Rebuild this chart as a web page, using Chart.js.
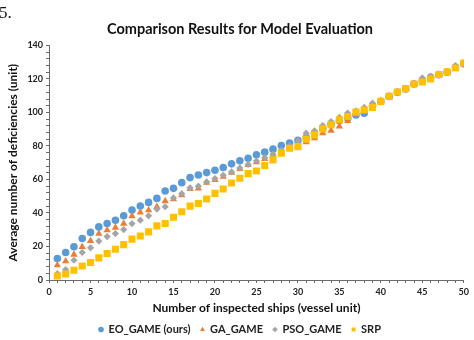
<!DOCTYPE html>
<html>
<head>
<meta charset="utf-8">
<script src="https://cdn.jsdelivr.net/npm/chart.js@4.4.1/dist/chart.umd.min.js"></script>
<style>
  html, body { margin: 0; padding: 0; background: #fff; }
  #wrap { position: relative; width: 474px; height: 340px; }
  #num { position: absolute; left: -1px; top: 3px; font: 17px "Liberation Serif", serif; color: #111; }
</style>
</head>
<body>
<div id="wrap">
  <canvas id="chart" width="474" height="340"></canvas>
  <div id="num">5.</div>
</div>
<script>
  'use strict'

  var ships = [1, 2, 3, 4, 5, 6, 7, 8, 9, 10, 11, 12, 13, 14, 15, 16, 17, 18, 19, 20,
    21, 22, 23, 24, 25, 26, 27, 28, 29, 30, 31, 32, 33, 34, 35, 36, 37, 38, 39, 40,
    41, 42, 43, 44, 45, 46, 47, 48, 49, 50]

  var eoGame = [12.8, 16.4, 19.8, 24.8, 28.4, 31.7, 33.7, 35.7, 38.3, 41.7,
    44.1, 46.3, 48.7, 53.1, 54.7, 58.1, 61.1, 62.7, 64.1, 65.5,
    67.1, 69.3, 71.1, 72.7, 74.7, 76.3, 78.1, 80.2, 81.8, 83.3,
    85, 87.5, 90.5, 93, 95, 96.5, 98.5, 99.5, 104, 106.5,
    109.5, 112, 114, 117, 119, 121, 122.5, 124, 127, 129]

  var gaGame = [8.8, 11.2, 15.2, 19.8, 23.4, 27.7, 29.7, 31.3, 33.7, 38.1,
    40.3, 41.7, 43.7, 47.1, 48.3, 50.7, 54.3, 54.7, 58.1, 59.7,
    61.7, 64.1, 66.3, 68.7, 70.3, 72.3, 74.5, 76, 78.5, 80.5,
    82.2, 84.6, 87.6, 89.2, 91.6, 95, 99, 102, 105, 106.5,
    109.5, 112, 114, 117, 119, 121, 122.5, 124, 127, 129]

  var psoGame = [3.8, 6.2, 11.8, 16.4, 19.2, 23.2, 25.9, 27.7, 30.1, 33.7,
    35.7, 38.3, 42.3, 43.7, 49, 51.5, 55, 56, 58.5, 60.5,
    62.5, 64.5, 66.8, 69, 71, 73, 75, 77.5, 80, 83,
    87.6, 89, 92.2, 94.6, 97, 99.6, 101, 103, 105.5, 107,
    110, 112.5, 114.5, 117.5, 120.6, 121.6, 123, 124.5, 128, 129.5]

  var srp = [2.4, 3.6, 5.8, 8.4, 10.4, 13.2, 15.8, 18.4, 21.1, 24.4,
    26.3, 28.7, 32.3, 33.7, 37.5, 40.7, 44.1, 45.7, 48.3, 51.7,
    54.3, 57.9, 60.7, 63.5, 65.1, 68.3, 71.7, 75.6, 78.6, 79.6,
    84, 86.6, 90.2, 92.6, 95.6, 97.6, 100.2, 101.5, 103, 106.6,
    109.6, 112.2, 114.2, 117, 118.2, 120, 122.6, 124.2, 126.5, 129.5]

  var xTickLabels = [0, 5, 10, 15, 20, 25, 30, 35, 40, 45, 50]
  var yTickLabels = [0, 20, 40, 60, 80, 100, 120, 140]

  function pts (ys) {
    return ships.map(function (x, i) { return { x: x, y: ys[i] } })
  }

  var font = 'Lato'
  var axisColor = '#6b6b6b'

  var data = {
    datasets: [{
      label: 'EO_GAME (ours)',
      data: pts(eoGame),
      pointStyle: 'circle',
      pointRadius: 3.8,
      backgroundColor: '#5B9BD5',
      borderColor: '#5B9BD5',
      borderWidth: 0,
      order: 4
    }, {
      label: 'GA_GAME',
      data: pts(gaGame),
      pointStyle: 'triangle',
      pointRadius: 4.2,
      backgroundColor: '#ED7D31',
      borderColor: '#ED7D31',
      borderWidth: 0,
      order: 3
    }, {
      label: 'PSO_GAME',
      data: pts(psoGame),
      pointStyle: 'rectRot',
      pointRadius: 3.6,
      backgroundColor: '#A5A5A5',
      borderColor: '#A5A5A5',
      borderWidth: 0,
      order: 2
    }, {
      label: 'SRP',
      data: pts(srp),
      pointStyle: 'rect',
      pointRadius: 5,
      backgroundColor: '#FFC000',
      borderColor: '#FFC000',
      borderWidth: 0,
      order: 1
    }]
  }

  var options = {
    responsive: false,
    animation: false,
    layout: { padding: { top: 12, left: 6, right: 0, bottom: -5 } },
    plugins: {
      title: {
        display: true,
        text: 'Comparison Results for Model Evaluation',
        color: '#111',
        font: { family: font, size: 14.5, weight: 'bold' },
        padding: { top: 9, bottom: 7 }
      },
      legend: {
        position: 'bottom',
        labels: {
          usePointStyle: true,
          boxHeight: 4,
          boxWidth: 4,
          padding: 10,
          color: '#222',
          font: { family: font, size: 11, weight: 'bold' },
          sort: function (a, b) { return a.datasetIndex - b.datasetIndex }
        }
      },
      tooltip: { enabled: false }
    },
    scales: {
      x: {
        type: 'linear',
        min: 0,
        max: 50,
        border: { display: true, color: axisColor, width: 1 },
        grid: { drawOnChartArea: false, drawTicks: true, tickLength: 3, color: axisColor },
        ticks: {
          stepSize: 1,
          autoSkip: false,
          maxRotation: 0,
          color: '#222',
          font: { family: font, size: 9, weight: 'bold', lineHeight: 1 },
          padding: 5,
          callback: function (v) { return xTickLabels.indexOf(v) >= 0 ? String(v) : '' }
        },
        title: {
          display: true,
          text: 'Number of inspected ships (vessel unit)',
          color: '#111',
          font: { family: font, size: 12, weight: 'bold', lineHeight: 1 },
          padding: { top: 0, bottom: 0 }
        }
      },
      y: {
        min: 0,
        max: 140,
        border: { display: true, color: axisColor, width: 1 },
        grid: { drawOnChartArea: false, drawTicks: true, tickLength: 3, color: axisColor },
        ticks: {
          stepSize: 4,
          autoSkip: false,
          color: '#222',
          font: { family: font, size: 9, weight: 'bold' },
          padding: 3,
          callback: function (v) { return yTickLabels.indexOf(v) >= 0 ? String(v) : '' }
        },
        title: {
          display: true,
          text: 'Average number of deficiencies (unit)',
          color: '#111',
          font: { family: font, size: 12, weight: 'bold' },
          padding: { top: 0, bottom: 4 }
        }
      }
    }
  }

  var myChart = new Chart(document.getElementById('chart'), {
    type: 'scatter',
    data: data,
    options: options
  })
</script>
</body>
</html>
